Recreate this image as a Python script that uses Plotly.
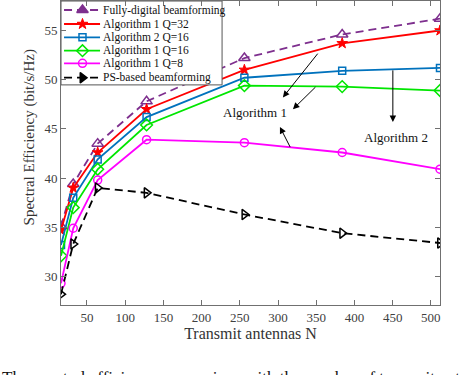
import plotly.graph_objects as go

# ---------------- data ----------------
N = [16, 32, 64, 128, 256, 384, 512]
fully_digital = [35.1, 39.4, 43.5, 47.8, 52.2, 54.6, 56.2]
alg1_q32 = [34.7, 39.0, 42.6, 47.0, 51.0, 53.7, 55.0]
alg2_q16 = [33.2, 38.0, 41.9, 46.2, 50.2, 50.9, 51.2]
alg1_q16 = [32.1, 37.0, 40.9, 45.4, 49.4, 49.3, 48.9]
alg1_q8 = [29.3, 34.9, 39.8, 43.9, 43.6, 42.6, 40.9]
ps_based = [28.2, 33.3, 39.0, 38.5, 36.3, 34.4, 33.4]

series_names = ["Fully-digital beamforming", "Algorithm 1 Q=32", "Algorithm 2 Q=16",
                "Algorithm 1 Q=16", "Algorithm 1 Q=8", "PS-based beamforming"]
series_values = [fully_digital, alg1_q32, alg2_q16, alg1_q16, alg1_q8, ps_based]

x_ticks = [50, 100, 150, 200, 250, 300, 350, 400, 450, 500]
y_ticks = [30, 35, 40, 45, 50, 55]

FONT = "Liberation Serif"

styles = [
    dict(color="#7E2F8E", dash="8px,5px", symbol="triangle-up-open", lsym="triangle-up", size=10, lw=1.5),
    dict(color="#FF0000", dash="solid", symbol="star", lsym="star", size=8, lw=1.0),
    dict(color="#0072BD", dash="solid", symbol="square-open", lsym="square-open", size=7, lw=1.5),
    dict(color="#00E600", dash="solid", symbol="diamond-open", lsym="diamond-open", size=9, lw=1.5),
    dict(color="#FF00FF", dash="solid", symbol="circle-open", lsym="circle-open", size=8, lw=1.5),
    dict(color="#000000", dash="8px,5px", symbol="triangle-right-open", lsym="triangle-right", size=9, lw=1.5),
]

fig = go.Figure()

for name, vals, st in zip(series_names, series_values, styles):
    fig.add_trace(go.Scatter(
        x=N, y=vals, name=name, mode="lines+markers",
        line=dict(color=st["color"], width=1.8, dash=st["dash"]),
        marker=dict(symbol=st["symbol"], size=st["size"], color=st["color"],
                    line=dict(color=st["color"], width=st["lw"])),
        showlegend=False, xaxis="x", yaxis="y",
    ))

# ---------------- custom compact legend (overlay axes in paper units) ----------------
box_x = [0.0, 0.425, 0.425, 0.0, 0.0]
box_y = [0.724, 0.724, 1.0, 1.0, 0.724]
fig.add_trace(go.Scatter(x=box_x, y=box_y, mode="lines", fill="toself",
                         fillcolor="white", line=dict(color="#555555", width=1),
                         showlegend=False, hoverinfo="skip", xaxis="x2", yaxis="y2"))

row_y = [0.9704, 0.9243, 0.8806, 0.8365, 0.7951, 0.7477]
for name, st, ry in zip(series_names, styles, row_y):
    fig.add_trace(go.Scatter(
        x=[0.008, 0.0567, 0.103], y=[ry, ry, ry], mode="lines",
        line=dict(color=st["color"], width=1.8, dash=st["dash"]),
        showlegend=False, hoverinfo="skip", xaxis="x2", yaxis="y2"))
    fig.add_trace(go.Scatter(
        x=[0.0567], y=[ry], mode="markers",
        marker=dict(symbol=st["lsym"], size=st["size"], color=st["color"],
                    line=dict(color=st["color"], width=st["lw"])),
        showlegend=False, hoverinfo="skip", xaxis="x2", yaxis="y2"))
    fig.add_annotation(x=0.106, y=ry, xref="x2", yref="y2", text=name,
                       showarrow=False, xanchor="left", yanchor="middle",
                       font=dict(family=FONT, size=11.5, color="#111111"))

# ---------------- arrows & labels ----------------
arrows = [
    (306.4, 48.2, 353.5, 52.8),
    (319.5, 47.0, 351.0, 49.4),
    (450.3, 45.7, 450.3, 51.1),
    (302.5, 45.2, 316.9, 43.0),
]
for hx, hy, tx, ty in arrows:
    fig.add_annotation(x=hx, y=hy, ax=tx, ay=ty, xref="x", yref="y", axref="x", ayref="y",
                       showarrow=True, arrowhead=2, arrowsize=1.3, arrowwidth=1,
                       arrowcolor="black", text="")

fig.add_annotation(x=269.8, y=46.7, xref="x", yref="y", text="Algorithm 1", showarrow=False,
                   xanchor="center", yanchor="middle",
                   font=dict(family=FONT, size=13, color="#111111"))
fig.add_annotation(x=454, y=44.1, xref="x", yref="y", text="Algorithm 2", showarrow=False,
                   xanchor="center", yanchor="middle",
                   font=dict(family=FONT, size=13, color="#111111"))

# y title
fig.add_annotation(x=-0.082, y=0.551, xref="paper", yref="paper", xanchor="center", yanchor="middle",
                   text="Spectral Efficiency (bit/s/Hz)", textangle=-90, showarrow=False,
                   font=dict(family=FONT, size=15, color="#333333"))

# caption (cut off by the page edge, as in the reference)
fig.add_annotation(x=-0.161, y=-0.200, xref="paper", yref="paper", xanchor="left", yanchor="top",
                   text="The spectral efficiency comparison with the number of transmit antennas",
                   showarrow=False, font=dict(family=FONT, size=17, color="#111111"))

axis_common = dict(showgrid=False, zeroline=False, showline=True, linecolor="#707070",
                   linewidth=1, mirror="ticks", ticks="inside", ticklen=5,
                   tickcolor="#707070", tickfont=dict(family=FONT, size=13, color="#404040"))

fig.update_layout(
    width=474, height=375,
    margin=dict(l=61, r=34, t=1, b=70),
    paper_bgcolor="white", plot_bgcolor="white",
    showlegend=False,
    xaxis=dict(range=[16, 512], tickvals=x_ticks,
               title=dict(text="Transmit antennas N", font=dict(family=FONT, size=16, color="#333333"),
                          standoff=4),
               **axis_common),
    yaxis=dict(range=[27.1, 58.0], tickvals=y_ticks, **axis_common),
    xaxis2=dict(range=[0, 1], overlaying="x", visible=False, fixedrange=True),
    yaxis2=dict(range=[0, 1], overlaying="y", visible=False, fixedrange=True),
    hovermode=False,
)

fig.write_html("out.html", config={"displayModeBar": False, "staticPlot": True},
               post_script="document.body.style.margin='0';document.body.style.overflow='hidden';")
